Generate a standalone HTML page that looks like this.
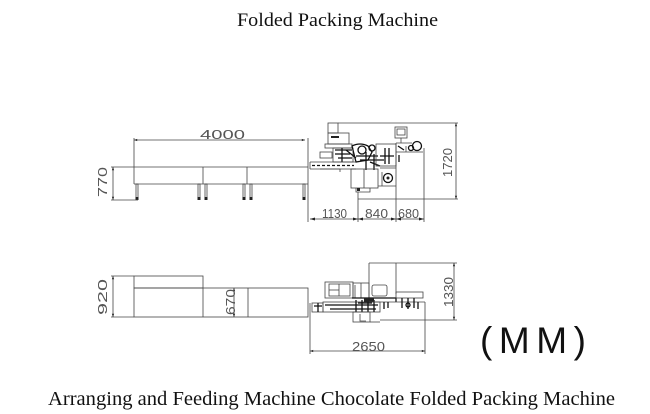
<!DOCTYPE html>
<html><head><meta charset="utf-8"><style>
html,body{margin:0;padding:0;background:#fff;}
svg{display:block;}
.l{stroke:#444;stroke-width:0.8;fill:none;}
.d{stroke:#111;stroke-width:1.3;fill:none;}
.f{fill:#222;stroke:none;}
.dim{font-family:"Liberation Sans",sans-serif;fill:#555;font-size:13px;}
.ser{font-family:"Liberation Serif",serif;fill:#111;}
</style></head><body>
<svg width="650" height="414" viewBox="0 0 650 414" xmlns="http://www.w3.org/2000/svg">
<defs>
<marker id="a" viewBox="0 0 10 10" refX="10" refY="5" markerWidth="6" markerHeight="4" orient="auto-start-reverse"><path d="M0 1.5 L10 5 L0 8.5 z" fill="#222"/></marker>
</defs>
<text class="ser" x="237" y="26" font-size="19" textLength="201" lengthAdjust="spacingAndGlyphs">Folded Packing Machine</text>

<!-- TOP VIEW: feeding machine -->
<line class="l" x1="134" y1="140" x2="305" y2="140" marker-start="url(#a)" marker-end="url(#a)"/>
<text class="dim" x="200" y="139" font-size="16" textLength="45" lengthAdjust="spacingAndGlyphs">4000</text>
<line class="l" x1="134" y1="138" x2="134" y2="184"/>
<line class="l" x1="308" y1="138" x2="308" y2="222"/>
<line class="l" x1="111" y1="167" x2="308" y2="167"/>
<line class="l" x1="134" y1="184" x2="308" y2="184"/>
<line class="l" x1="203" y1="167" x2="203" y2="184"/>
<line class="l" x1="247" y1="167" x2="247" y2="184"/>
<g class="l">
<rect x="136" y="184" width="2" height="14"/><rect x="198" y="184" width="2" height="14"/><rect x="205" y="184" width="2" height="14"/>
<rect x="243" y="184" width="2" height="14"/><rect x="250" y="184" width="2" height="14"/><rect x="303" y="184" width="2" height="14"/>
</g>
<g class="f">
<rect x="135.5" y="197" width="3" height="3"/><rect x="197.5" y="197" width="3" height="3"/><rect x="204.5" y="197" width="3" height="3"/>
<rect x="242.5" y="197" width="3" height="3"/><rect x="249.5" y="197" width="3" height="3"/><rect x="302.5" y="197" width="3" height="3"/>
</g>
<line class="l" x1="111" y1="200" x2="138" y2="200"/>
<line class="l" x1="113" y1="167" x2="113" y2="200" marker-start="url(#a)" marker-end="url(#a)"/>
<text class="dim" transform="translate(107,197) rotate(-90)" font-size="16" textLength="30" lengthAdjust="spacingAndGlyphs">770</text>

<!-- TOP VIEW: packing machine -->
<line class="l" x1="338" y1="123" x2="458" y2="123"/>
<line class="l" x1="456" y1="123" x2="456" y2="199" marker-start="url(#a)" marker-end="url(#a)"/>
<line class="l" x1="358" y1="199" x2="458" y2="199"/>
<text class="dim" transform="translate(452,177) rotate(-90)" font-size="14" textLength="29" lengthAdjust="spacingAndGlyphs">1720</text>
<rect class="l" x="328" y="123" width="10" height="10"/>
<rect class="l" x="328" y="133" width="21" height="11"/>
<rect class="f" x="331" y="136" width="8" height="2"/>
<rect class="l" x="325" y="144" width="27" height="4"/>
<!-- mechanism -->
<rect class="l" x="333" y="148" width="20" height="14"/>
<path class="d" d="M335 150 H352 M335 154 H350 M338 158 H352 M342 148 V162"/>
<rect class="l" x="320" y="152" width="12" height="6"/>
<path class="d" d="M352 146 Q360 142 368 146 L372 152 L368 160 L356 162 Z"/>
<circle class="d" cx="362" cy="150" r="4"/>
<circle class="d" cx="372" cy="148" r="3"/>
<path class="d" d="M356 156 H378 M360 160 H384 M366 152 V170 M374 154 V170 M346 150 L356 158 M370 162 L380 166"/>
<rect class="l" x="376" y="144" width="20" height="22"/>
<path class="d" d="M385 148 V164 M389 148 V164 M380 156 H394"/>
<circle class="d" cx="388" cy="178" r="4.5"/>
<circle class="f" cx="388" cy="178" r="1.5"/>
<path class="l" d="M380 168 H396 M382 172 V186 M378 186 H396"/>
<!-- conveyor -->
<path class="l" d="M310 162 H356 M310 169 H356 M310 162 V169"/>
<path class="d" d="M312 165.5 H354" stroke-dasharray="3 2"/>
<path class="l" d="M320 169 H340 V172"/>
<!-- lower housing -->
<rect class="l" x="351" y="169" width="27" height="19"/>
<line class="l" x1="364" y1="169" x2="364" y2="188"/>
<path class="l" d="M356 188 V192 H370 V188"/>
<rect class="f" x="357" y="188" width="3" height="3"/>
<line class="l" x1="358" y1="192" x2="358" y2="222"/>
<line class="l" x1="396" y1="143" x2="396" y2="222"/>
<!-- right section -->
<rect class="l" x="395" y="127" width="12" height="11"/>
<rect class="l" x="397" y="129" width="8" height="6"/>
<line class="l" x1="401" y1="138" x2="401" y2="143"/>
<path class="l" d="M396 143 H412 M396 152 H423 M406 146 V152"/>
<circle class="d" cx="417" cy="146" r="4.5"/>
<circle class="d" cx="411" cy="148" r="2.5"/>
<path class="d" d="M398 146 L404 150 M399 155 V162"/>
<line class="l" x1="424" y1="148" x2="424" y2="222"/>
<!-- bottom dims -->
<line class="l" x1="310" y1="219" x2="424" y2="219"/>
<path class="f" d="M310 219 l5 -1.5 v3 z M358 219 l-5 -1.5 v3 z M358 219 l5 -1.5 v3 z M396 219 l-5 -1.5 v3 z M396 219 l5 -1.5 v3 z M424 219 l-5 -1.5 v3 z"/>
<text class="dim" x="322" y="218" textLength="25" lengthAdjust="spacingAndGlyphs">1130</text>
<text class="dim" x="365" y="218" textLength="23" lengthAdjust="spacingAndGlyphs">840</text>
<text class="dim" x="398" y="218" textLength="21" lengthAdjust="spacingAndGlyphs">680</text>

<!-- SIDE VIEW: feeding machine -->
<rect class="l" x="134" y="276" width="69" height="12"/>
<rect class="l" x="134" y="288" width="174" height="29"/>
<line class="l" x1="203" y1="288" x2="203" y2="317"/>
<line class="l" x1="248" y1="288" x2="248" y2="317"/>
<line class="l" x1="111" y1="276" x2="134" y2="276"/>
<line class="l" x1="111" y1="317" x2="134" y2="317"/>
<line class="l" x1="113" y1="276" x2="113" y2="317" marker-start="url(#a)" marker-end="url(#a)"/>
<text class="dim" transform="translate(107,315) rotate(-90)" font-size="16" textLength="36" lengthAdjust="spacingAndGlyphs">920</text>
<line class="l" x1="234" y1="288" x2="234" y2="317" marker-start="url(#a)" marker-end="url(#a)"/>
<text class="dim" transform="translate(235,315) rotate(-90)" font-size="13" textLength="26" lengthAdjust="spacingAndGlyphs">670</text>

<!-- SIDE VIEW: packing machine -->
<line class="l" x1="369" y1="263" x2="457" y2="263"/>
<line class="l" x1="454" y1="263" x2="454" y2="320" marker-start="url(#a)" marker-end="url(#a)"/>
<line class="l" x1="380" y1="320" x2="457" y2="320"/>
<text class="dim" transform="translate(453,307) rotate(-90)" font-size="14" textLength="30" lengthAdjust="spacingAndGlyphs">1330</text>
<line class="l" x1="369" y1="263" x2="369" y2="300"/>
<line class="l" x1="396" y1="263" x2="396" y2="294"/>
<rect class="l" x="372" y="285" width="15" height="11" rx="2"/>
<rect class="l" x="325" y="282" width="28" height="16"/>
<rect class="l" x="329" y="284" width="21" height="12"/>
<line class="l" x1="339" y1="284" x2="339" y2="296"/>
<line class="l" x1="329" y1="290" x2="339" y2="290"/>
<rect class="l" x="353" y="283" width="16" height="15"/>
<path class="l" d="M355 285 V298 M361 283 V298"/>
<rect class="l" x="312" y="303" width="11" height="9"/>
<path class="d" d="M314 306 H322 M318 303 V312"/>
<rect class="l" x="323" y="302" width="57" height="10"/>
<path class="d" d="M325 305 H378 M330 309 H376" />
<path class="d" d="M352 298 H396 V302 M356 300 V312 M362 300 V312 M368 299 V312 M374 300 V312 M358 303 H372"/>
<rect class="f" x="364" y="298" width="10" height="4"/>
<rect class="l" x="353" y="312" width="17" height="10"/>
<path class="l" d="M360 314 V321 H366"/>
<rect class="l" x="396" y="292" width="27" height="6"/>
<line class="l" x1="369" y1="302" x2="425" y2="302"/>
<path class="d" d="M384 302 V309 M388 302 V308 M402 298 V308 M408 298 V309 M414 298 V308 M418 302 V309"/>
<circle class="d" cx="408" cy="305" r="2"/>
<line class="l" x1="370" y1="322" x2="380" y2="322"/>
<line class="l" x1="310" y1="303" x2="310" y2="354"/>
<line class="l" x1="425" y1="302" x2="425" y2="354"/>
<line class="l" x1="310" y1="351" x2="425" y2="351" marker-start="url(#a)" marker-end="url(#a)"/>
<text class="dim" x="352" y="351" textLength="33" lengthAdjust="spacingAndGlyphs">2650</text>

<text x="480" y="353" font-family="'Liberation Sans',sans-serif" font-size="37" fill="#111" textLength="106" lengthAdjust="spacing">(MM)</text>

<text class="ser" x="48" y="405" font-size="20" textLength="567" lengthAdjust="spacingAndGlyphs">Arranging and Feeding Machine  Chocolate Folded Packing Machine</text>
</svg>
</body></html>
